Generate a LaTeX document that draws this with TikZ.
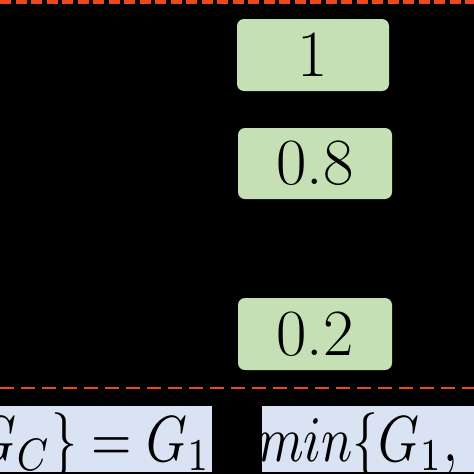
\documentclass[tikz,border=0pt]{standalone}
\definecolor{boxgreen}{RGB}{197,224,180}
\definecolor{boxblue}{RGB}{218,227,243}
\definecolor{dashred}{RGB}{235,72,30}
\begin{document}
\begin{tikzpicture}[x=1pt,y=-1pt,
  valbox/.style={rounded corners=7pt, fill=boxgreen, minimum width=152pt, minimum height=72pt,
    inner sep=0pt, text=black, font=\fontsize{66}{70}\selectfont},
  eqtext/.style={inner sep=0pt, text=black},
  reddash/.style={draw=dashred}]
\useasboundingbox (0,0) rectangle (474,474);
\clip (0,0) rectangle (474,474);
\fill[black] (0,0) rectangle (474,474);
% top dashed line
\coordinate (tl) at (0,0);
\coordinate (tr) at (480,0);
\draw[reddash, line width=7pt, dash pattern=on 11pt off 4.5pt] (tl) -- (tr);
% value boxes
\node[valbox] (v1) at (313,55) {1};
\node[valbox, minimum width=154pt, minimum height=71pt] (v08) at (315,163.5) {0.8};
\node[valbox, minimum width=154pt] (v02) at (315,334) {0.2};
% bottom dashed line
\coordinate (bl) at (0,388);
\coordinate (br) at (480,388);
\draw[reddash, line width=2.4pt, dash pattern=on 14pt off 7pt] (bl) -- (br);
% blue boxes
\fill[boxblue] (-20,406) rectangle (212,472);
\fill[boxblue] (262,406) rectangle (490,472);
\node[eqtext, anchor=base east] (eqL) at (211,461) {\scalebox{5.2}[6.5]{$G_C\} = G_1$}};
\node[eqtext, anchor=base west] (eqR) at (258,461) {\scalebox{5.2}[6.5]{$min\{G_1,$}};
\end{tikzpicture}
\end{document}
